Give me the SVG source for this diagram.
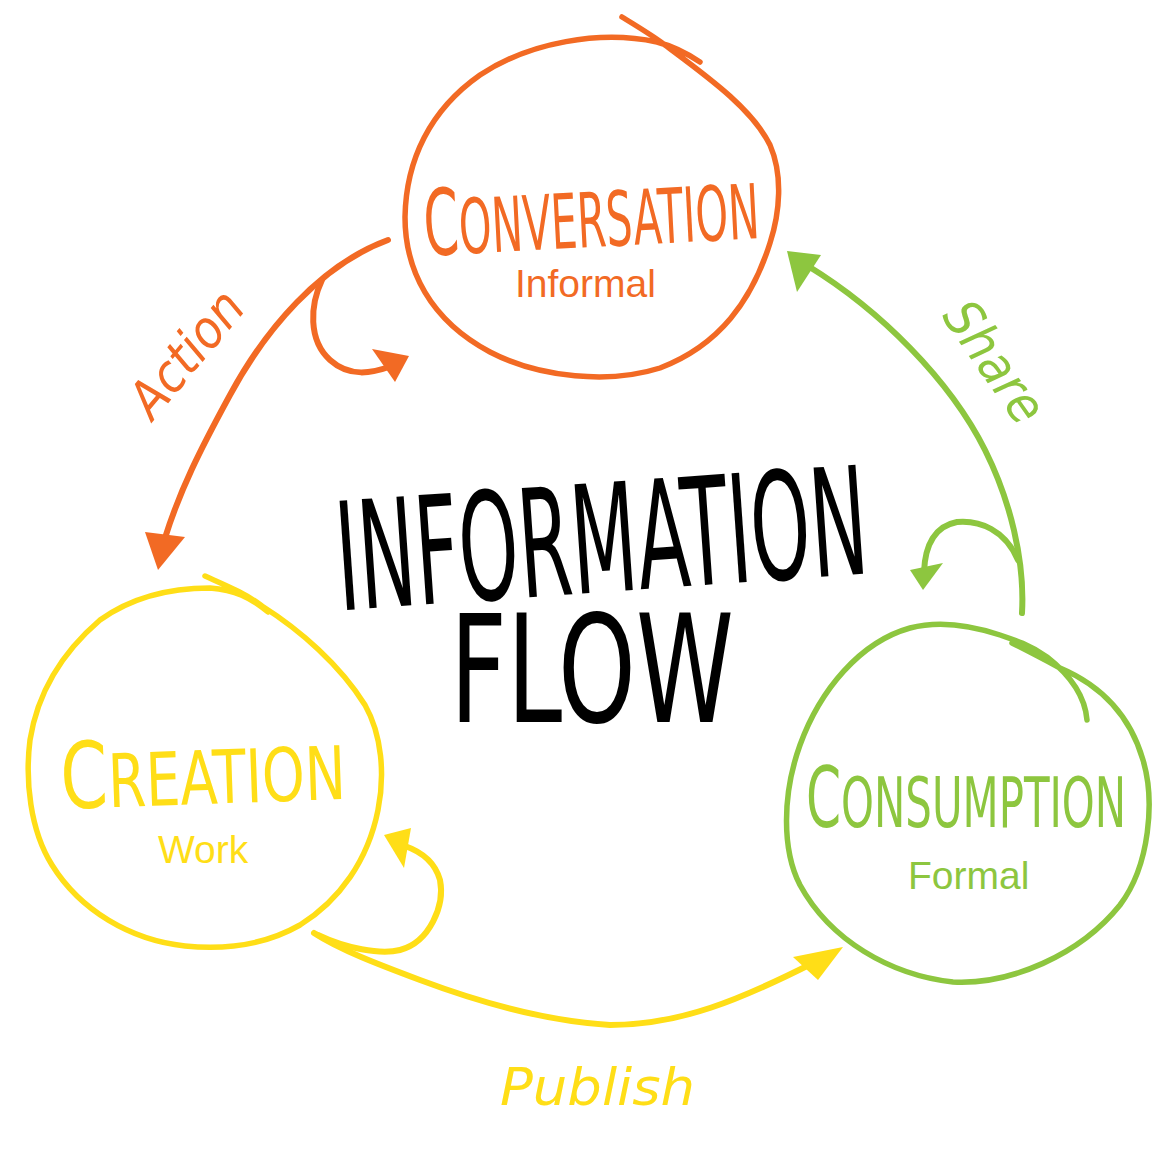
<svg xmlns="http://www.w3.org/2000/svg" width="1174" height="1149" viewBox="0 0 1174 1149">
<style>
.loop{fill:none;stroke-width:5.5;stroke-linecap:round;stroke-linejoin:round}
.conn{fill:none;stroke-width:6;stroke-linecap:round;stroke-linejoin:round}
.or{stroke:#F26A24}.ye{stroke:#FFDE17}.gr{stroke:#8DC63F}
.fo{fill:#F26A24}.fy{fill:#FFDE17}.fg{fill:#8DC63F}
.hand{font-family:"Liberation Sans Narrow","DejaVu Sans Condensed","Liberation Sans",sans-serif;font-weight:normal}
.sub{font-family:"Liberation Sans",Arial,sans-serif;font-size:39px}
.lab{font-family:"Liberation Sans Narrow","DejaVu Sans Condensed","Liberation Sans",sans-serif;font-style:italic;font-size:52px}
</style>
<rect width="1174" height="1149" fill="#fff"/>
<g id="connectors">
  <g id="action">
    <path class="conn or" d="M388,240 C320,265 265,330 230,395 C200,450 180,490 165,538"/>
    <polygon class="fo" points="145,532 185,537 158,570"/>
    <path class="conn or" d="M322,280 C310,305 308,340 330,360 C350,378 372,373 392,366"/>
    <polygon class="fo" points="372,349 409,356 395,382"/>
    <text class="lab fo" transform="translate(200,365) rotate(-50)" text-anchor="middle">Action</text>
  </g>
  <g id="share">
    <path class="conn gr" d="M1022,613 C1025,560 1010,500 985,450 C950,380 880,310 808,266"/>
    <polygon class="fg" points="787,251 821,255 797,292"/>
    <path class="conn gr" d="M1018,560 C1005,530 980,520 957,522 C935,526 925,545 924,572"/>
    <polygon class="fg" points="910,570 943,563 923,590"/>
    <text class="lab fg" transform="translate(980,372) rotate(55)" text-anchor="middle">Share</text>
  </g>
  <g id="publish">
    <path class="conn ye" d="M314,933 C340,950 380,965 420,980 C500,1010 560,1022 610,1025 C680,1025 740,1000 815,962"/>
    <polygon class="fy" points="793,957 843,947 818,980"/>
    <path class="conn ye" d="M318,935 C345,948 380,955 400,950 C430,942 445,905 440,880 C435,862 422,852 405,846"/>
    <polygon class="fy" points="384,835 411,828 404,868"/>
    <text class="lab fy" x="500" y="1105" textLength="195" lengthAdjust="spacingAndGlyphs">Publish</text>
  </g>
</g>
<g id="conversation">
  <path class="loop or" d="M622,17 C640,28 655,37 665,45 C705,75 752,108 770,145 C783,175 780,212 770,243 C752,300 720,345 660,368 C610,384 540,378 490,352 C430,320 405,270 405,217 C406,160 430,110 480,75 C530,42 600,30 657,42 C672,46 685,52 700,62"/>
  <text class="hand fo" transform="rotate(-3 590 210) translate(423,247) scale(0.586,1)" font-size="76" textLength="573" lengthAdjust="spacingAndGlyphs"><tspan font-size="92">C</tspan>ONVERSATION</text>
  <text class="sub fo" x="515" y="297">Informal</text>
</g>
<g id="creation">
  <path class="loop ye" d="M205,576 C225,585 245,593 262,606 C300,630 340,665 365,705 C382,735 385,775 378,810 C368,860 340,900 300,925 C265,945 225,950 185,946 C130,940 80,910 52,865 C30,830 25,780 30,740 C38,690 65,650 100,620 C135,595 175,588 210,588 C235,590 250,597 268,612"/>
  <text class="hand fy" transform="rotate(-2 200 760) translate(60,804) scale(0.805,1)" font-size="74" textLength="354" lengthAdjust="spacingAndGlyphs"><tspan font-size="92">C</tspan>REATION</text>
  <text class="sub fy" x="158" y="863">Work</text>
</g>
<g id="consumption">
  <path class="loop gr" d="M1087,720 C1085,695 1070,675 1047,657 C1030,645 1015,640 1000,635 C970,625 940,620 910,628 C860,642 820,690 800,745 C782,795 782,850 800,885 C830,940 890,975 953,982 C1010,985 1080,955 1120,905 C1150,865 1155,800 1143,760 C1130,715 1100,685 1060,668 C1045,660 1030,652 1012,643"/>
  <text class="hand fg" transform="translate(806,827) scale(0.664,1)" font-size="70" textLength="482" lengthAdjust="spacingAndGlyphs"><tspan font-size="84">C</tspan>ONSUMPTION</text>
  <text class="sub fg" x="908" y="889">Formal</text>
</g>
<g id="title">
  <text class="hand" fill="#000" transform="rotate(-4 600 520) translate(334,592) scale(0.556,1)" font-size="150" textLength="957" lengthAdjust="spacingAndGlyphs">INFORMATION</text>
  <text class="hand" fill="#000" transform="translate(450,722) scale(0.724,1)" font-size="150" textLength="392" lengthAdjust="spacingAndGlyphs">FLOW</text>
</g>
</svg>
